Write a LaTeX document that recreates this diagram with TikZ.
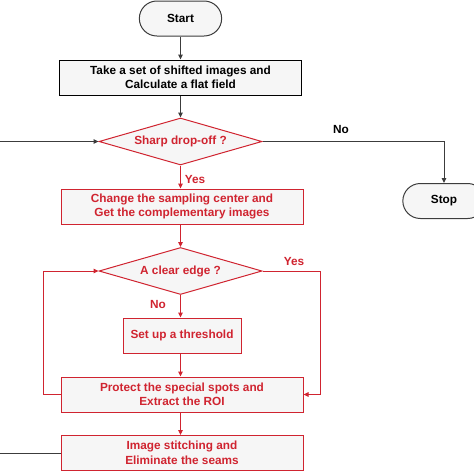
\documentclass[tikz,border=0pt]{standalone}
\usepackage{fontspec}
\setmainfont{Liberation Sans}
\usetikzlibrary{shapes.geometric,shapes.misc,arrows.meta}
\definecolor{flowred}{RGB}{208,36,48}
\definecolor{flowgray}{RGB}{60,60,60}
\definecolor{boxfill}{RGB}{246,246,246}
\tikzset{
	every node/.style={font=\fontsize{11.8}{14.5}\selectfont\bfseries},
	term/.style={rounded rectangle, draw=flowgray, fill=boxfill, line width=1pt, minimum width=89pt, minimum height=35pt},
	proc/.style={rectangle, draw=#1, fill=boxfill, text=#1, line width=1pt, minimum width=242pt, minimum height=35pt, align=center, inner sep=0pt},
	test/.style={diamond, draw=flowred, fill=boxfill, text=flowred, line width=1pt, aspect=3.5, inner sep=0pt, minimum width=163pt, minimum height=47pt},
	flow/.style={line width=1pt, draw=#1, -{Triangle[length=5pt,width=4.5pt]}},
	tag/.style={text=#1}
}
\begin{document}
\begin{tikzpicture}[x=1pt,y=-1pt]
	\useasboundingbox (0,0) rectangle (474,474);
	\node[term] at (180.5,18.5) (start) {Start};
	\node[proc=black] at (180.5,77.5) (take) {Take a set of shifted images and\\Calculate a flat field};
	\node[test] at (180.5,141.5) (sharp) {Sharp drop-off ?};
	\node[term] at (444,201) (stop) {Stop};
	\node[proc=flowred] at (182,206.5) (change) {Change the sampling center and\\Get the complementary images};
	\node[test] at (180.5,271) (clear) {A clear edge ?};
	\node[proc=flowred, minimum width=118pt] at (182,335.5) (thresh) {Set up a threshold};
	\node[proc=flowred] at (182,394.5) (protect) {Protect the special spots and\\Extract the ROI};
	\node[proc=flowred] at (182,453) (stitch) {Image stitching and\\Eliminate the seams};
	\coordinate (loopin) at (0,141.5);
	\coordinate (loopout) at (0,453);
	\coordinate (yesturn) at (320,271);
	\coordinate (noturn) at (43,394.5);
	\node[tag=black] at (341,129) (nostop) {No};
	\node[tag=flowred] at (195,179) (yeschange) {Yes};
	\node[tag=flowred] at (294,261) (yesclear) {Yes};
	\node[tag=flowred] at (158,304) (noclear) {No};
	\path (start.south) edge[flow=flowgray] (take.north)
	(take.south) edge[flow=flowgray] (sharp.north)
	(loopin) edge[flow=flowgray] (sharp.west)
	(sharp.south) edge[flow=flowred] (sharp.south |- change.north)
	(change.south -| sharp.south) edge[flow=flowred] (clear.north)
	(clear.south) edge[flow=flowred] (clear.south |- thresh.north)
	(thresh.south -| clear.south) edge[flow=flowred] (clear.south |- protect.north)
	(protect.south -| clear.south) edge[flow=flowred] (clear.south |- stitch.north);
	\draw[flow=flowgray] (sharp.east) -| (stop.north);
	\draw[flow=flowred] (clear.east) -- (yesturn) |- (protect.east);
	\draw[flow=flowred] (protect.west) -- (noturn) |- (clear.west);
	\draw[line width=1pt, flowgray] (stitch.west) -- (loopout);
\end{tikzpicture}
\end{document}
